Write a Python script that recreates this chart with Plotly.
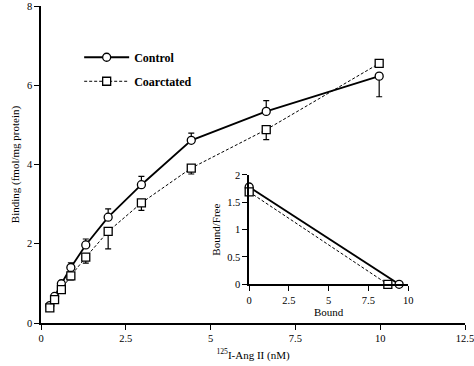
import plotly.graph_objects as go

# Main saturation data
conc = [0.26, 0.40, 0.60, 0.88, 1.32, 1.98, 2.96, 4.43, 6.64, 9.97]
control = [0.44, 0.67, 0.99, 1.40, 1.97, 2.67, 3.49, 4.61, 5.34, 6.23]
control_err_up = [0, 0, 0.05, 0.12, 0.15, 0.21, 0.21, 0.18, 0.27, 0]
control_err_down = [0, 0, 0, 0, 0, 0, 0, 0, 0, 0.52]
coarct = [0.38, 0.59, 0.84, 1.19, 1.66, 2.31, 3.03, 3.91, 4.88, 6.55]
coarct_err_up = [0, 0, 0, 0, 0, 0, 0, 0, 0, 0]
coarct_err_down = [0.05, 0.05, 0.08, 0.10, 0.15, 0.44, 0.19, 0.15, 0.25, 0]

# Scatchard inset
bound_control = [0, 9.43]
bf_control = [1.78, 0]
bound_coarct = [0, 8.72]
bf_coarct = [1.69, 0]

x_ticks = [0, 2.5, 5, 7.5, 10, 12.5]
y_ticks = [0, 2, 4, 6, 8]
inset_x_ticks = [0, 2.5, 5, 7.5, 10]
inset_y_ticks = [0, 0.5, 1, 1.5, 2]

FONT = "Liberation Serif"

fig = go.Figure()

fig.add_trace(go.Scatter(
    x=conc, y=control, name="<b>Control</b>", mode="lines+markers",
    line=dict(color="black", width=1.8),
    marker=dict(symbol="circle", size=8, color="white", line=dict(color="black", width=1.3)),
    error_y=dict(type="data", symmetric=False, array=control_err_up, arrayminus=control_err_down,
                 color="black", thickness=1.2, width=3),
    legendgroup="a", cliponaxis=False))

fig.add_trace(go.Scatter(
    x=conc, y=coarct, name="<b>Coarctated</b>", mode="lines+markers",
    line=dict(color="black", width=1, dash="3px,2px"),
    marker=dict(symbol="square", size=8, color="white", line=dict(color="black", width=1.3)),
    error_y=dict(type="data", symmetric=False, array=coarct_err_up, arrayminus=coarct_err_down,
                 color="black", thickness=1.2, width=3),
    legendgroup="b", cliponaxis=False))

fig.add_trace(go.Scatter(
    x=bound_control, y=bf_control, mode="lines+markers", showlegend=False,
    line=dict(color="black", width=1.8),
    marker=dict(symbol="circle", size=8, color="white", line=dict(color="black", width=1.3)),
    xaxis="x2", yaxis="y2", cliponaxis=False))

fig.add_trace(go.Scatter(
    x=bound_coarct, y=bf_coarct, mode="lines+markers", showlegend=False,
    line=dict(color="black", width=1, dash="3px,2px"),
    marker=dict(symbol="square", size=8, color="white", line=dict(color="black", width=1.3)),
    xaxis="x2", yaxis="y2", cliponaxis=False))

axis_common = dict(showline=True, linecolor="black", linewidth=1.5, ticks="outside",
                   ticklen=5, tickcolor="black", tickwidth=1.2, showgrid=False, zeroline=False,
                   automargin=False, ticklabeloverflow="allow",
                   tickfont=dict(family=FONT, size=10.5, color="black"))

fig.update_layout(
    width=474, height=366,
    margin=dict(l=41, r=9, t=6, b=43),
    paper_bgcolor="white", plot_bgcolor="white",
    font=dict(family=FONT, size=11, color="black"),
    showlegend=True,
    legend=dict(x=0.09, y=0.884, xanchor="left", yanchor="top",
                font=dict(family=FONT, size=12, color="black"),
                bgcolor="rgba(0,0,0,0)", tracegroupgap=5, itemwidth=45),
    xaxis=dict(range=[0, 12.5], tickvals=x_ticks, ticktext=[str(v) for v in x_ticks],
               title=dict(text="<sup>125</sup>I-Ang II (nM)", font=dict(family=FONT, size=11), standoff=8),
               **axis_common),
    yaxis=dict(range=[0, 8], tickvals=y_ticks,
               title=dict(text="Binding (fmol/mg protein)", font=dict(family=FONT, size=11), standoff=5),
               **axis_common),
    xaxis2=dict(domain=[0.491, 0.866], anchor="y2", range=[0, 10], tickvals=inset_x_ticks,
                ticktext=[str(v) for v in inset_x_ticks],
                title=dict(text="Bound", font=dict(family=FONT, size=11), standoff=4),
                **axis_common),
    yaxis2=dict(domain=[0.122, 0.467], anchor="x2", range=[0, 2], tickvals=inset_y_ticks,
                ticktext=[str(v) for v in inset_y_ticks],
                title=dict(text="Bound/Free", font=dict(family=FONT, size=11), standoff=4),
                **axis_common),
)

fig.update_xaxes(selector=dict(anchor="y"), tickfont=dict(size=10))

fig.write_html("out.html", config={"displayModeBar": False},
               post_script="document.body.style.margin='0px';document.body.style.overflow='hidden';")
